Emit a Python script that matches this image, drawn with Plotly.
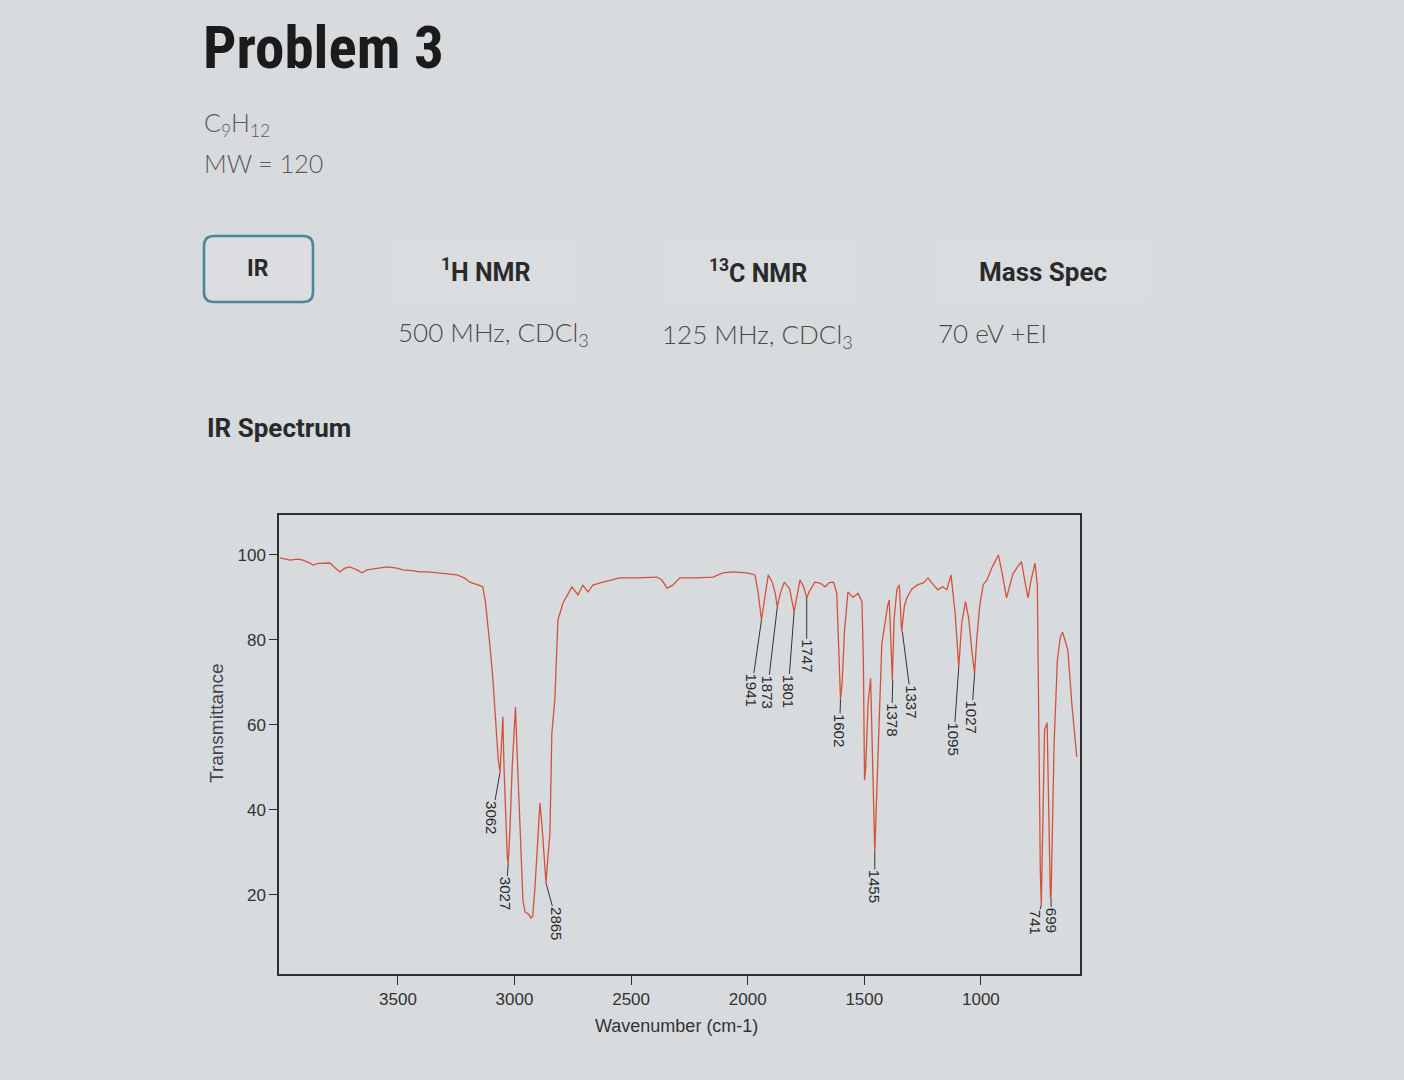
import numpy as np
import plotly.graph_objects as go

# ---------------- data ----------------
wavenumber = [
    4006, 3963, 3930, 3907, 3877, 3864, 3840, 3813, 3792, 3770, 3749, 3727, 3706, 3676, 3654, 3633,
    3590, 3547, 3504, 3479, 3440, 3406, 3370, 3333, 3290, 3247, 3215, 3191, 3160, 3136, 3125, 3115,
    3106, 3093, 3080, 3070, 3062, 3056, 3050, 3045, 3038, 3031, 3027, 3020, 3010, 3000, 2996, 2990,
    2980, 2970, 2964, 2955, 2940, 2930, 2922, 2912, 2904, 2891, 2883, 2872, 2865, 2858, 2848, 2840,
    2827, 2814, 2792, 2754, 2728, 2707, 2685, 2664, 2621, 2548, 2475, 2389, 2368, 2346, 2321, 2291,
    2218, 2149, 2106, 2063, 2003, 1969, 1955, 1941, 1930, 1912, 1895, 1882, 1873, 1860, 1843, 1820,
    1801, 1790, 1776, 1760, 1747, 1735, 1712, 1690, 1668, 1650, 1632, 1618, 1610, 1602, 1595, 1585,
    1570, 1548, 1527, 1510, 1504, 1499, 1494, 1484, 1473, 1466, 1460, 1455, 1449, 1442, 1437, 1425,
    1400, 1393, 1386, 1380, 1372, 1360, 1350, 1340, 1328, 1317, 1296, 1270, 1245, 1227, 1205, 1184,
    1165, 1146, 1128, 1110, 1095, 1082, 1066, 1052, 1038, 1027, 1018, 1005, 990, 975, 951, 925,
    910, 890, 875, 863, 845, 826, 812, 798, 785, 768, 758, 752, 745, 741, 736, 727,
    716, 708, 702, 699, 694, 686, 672, 660, 650, 640, 627, 610, 589,
]
transmittance = [
    99.3, 98.8, 99.0, 98.8, 98.1, 97.6, 98.0, 98.1, 98.1, 97.0, 96.0, 96.9, 97.2, 96.5, 95.8, 96.5,
    96.9, 97.2, 96.9, 96.5, 96.3, 96.0, 96.0, 95.8, 95.6, 95.3, 94.6, 93.6, 93.0, 92.5, 89.0, 84.0,
    79.0, 71.0, 60.0, 52.0, 48.9, 55.0, 61.9, 50.0, 38.0, 29.0, 27.5, 35.0, 50.0, 63.0, 64.2, 55.0,
    42.0, 25.0, 18.8, 16.0, 15.5, 14.6, 15.0, 22.0, 30.6, 41.6, 37.0, 28.0, 22.8, 28.0, 34.6, 58.0,
    66.0, 84.7, 88.7, 92.5, 90.6, 92.9, 91.3, 92.9, 93.6, 94.6, 94.6, 94.8, 94.1, 92.2, 92.9, 94.6,
    94.6, 94.8, 95.8, 96.0, 95.8, 95.3, 91.0, 84.7, 89.0, 95.3, 93.6, 91.0, 87.8, 91.0, 93.6, 92.0,
    86.6, 90.0, 94.1, 92.5, 89.9, 91.5, 93.6, 93.4, 92.5, 93.5, 93.6, 91.0, 80.0, 66.0, 70.0, 82.0,
    91.3, 90.0, 91.0, 89.0, 75.0, 47.0, 50.0, 65.0, 71.0, 55.0, 40.0, 30.0, 40.0, 52.0, 55.0, 79.0,
    88.0, 89.4, 80.0, 70.6, 85.0, 92.0, 93.0, 82.0, 88.0, 90.0, 92.0, 93.0, 93.5, 94.6, 93.0, 91.8,
    92.5, 91.8, 95.3, 86.0, 73.6, 84.0, 89.0, 85.0, 77.0, 72.2, 80.0, 88.0, 93.0, 94.0, 97.2, 100.0,
    96.0, 89.9, 93.0, 95.5, 97.0, 98.4, 94.0, 89.9, 94.0, 98.1, 93.0, 60.0, 25.0, 17.6, 32.0, 58.8,
    60.5, 35.0, 19.3, 19.8, 38.0, 55.8, 75.3, 80.5, 81.9, 80.0, 77.6, 65.0, 52.5,
]
peak_labels = ["3062", "3027", "2865", "1941", "1873", "1801", "1747", "1602",
               "1455", "1378", "1337", "1095", "1027", "741", "699"]
x_ticks = [3500, 3000, 2500, 2000, 1500, 1000]
y_ticks = [20, 40, 60, 80, 100]

# label offsets (pixels) from the band minimum to the rotated label
label_offsets = [(-8, 45), (-2, 30), (11, 40), (-10, 70), (-10, 85), (-6, 79), (0, 58), (-1, 31),
                 (0, 34), (-1, 40), (9, 70), (-5, 72), (-3, 44), (-5, 17), (0, 22)]

# ---------------- layout geometry ----------------
W, H = 1404, 1080
L, R, T, B = 279, 1080, 515, 974


def px(x):
    return (x - L) / (R - L)


def py(y):
    return (B - y) / (B - T)


BG = "#d8dbde"
LINE = "#d2523b"
DARK = "#2e2e2e"

wn_arr = np.array(wavenumber, dtype=float)
t_arr = np.array(transmittance, dtype=float)

fig = go.Figure()
fig.add_trace(go.Scatter(
    x=wn_arr, y=t_arr, mode="lines",
    line=dict(color=LINE, width=1.3),
    hoverinfo="x+y", showlegend=False,
))

annotations = []
# peak labels
for lab, (ax, ay) in zip(peak_labels, label_offsets):
    w = float(lab)
    mask = np.abs(wn_arr - w) <= 6
    yv = float(t_arr[mask].min()) if mask.any() else float(np.interp(-w, -wn_arr, t_arr))
    annotations.append(dict(
        x=w, y=yv, xref="x", yref="y", text=lab, textangle=90,
        showarrow=True, arrowhead=0, arrowwidth=1, arrowcolor="#333333",
        ax=ax, ay=ay, standoff=0, borderpad=0,
        font=dict(family="Liberation Sans, Arial", size=15, color="#2a2a2a"),
    ))


def txt(text, x, y, size, color, family="Roboto, Liberation Sans", xanchor="center",
        yanchor="middle", angle=0, weight=None):
    f = dict(family=family, size=size, color=color)
    if weight is not None:
        f["weight"] = weight
    annotations.append(dict(
        x=px(x), y=py(y), xref="paper", yref="paper", text=text, showarrow=False,
        xanchor=xanchor, yanchor=yanchor, textangle=angle, font=f,
    ))


txt("<b>Problem 3</b>", 201, 47, 59, "#1b1b1b",
    family="Roboto Condensed, Open Sans Condensed, Noto Sans Condensed, Roboto", xanchor="left")
txt("C<sub>9</sub>H<sub>12</sub>", 202, 124, 25, "#5a5a5a", family="Lato, Roboto",
    xanchor="left", weight=300)
txt("MW = 120", 202, 163, 25, "#5a5a5a", family="Lato, Roboto", xanchor="left", weight=300)

txt("<b>IR</b>", 258, 269, 23, "#2a2a2a")
txt("<b><sup>1</sup>H NMR</b>", 485, 270, 25, "#2a2a2a")
txt("<b><sup>13</sup>C NMR</b>", 758, 271, 25, "#2a2a2a")
txt("<b>Mass Spec</b>", 1043, 272, 26, "#2a2a2a")

txt("500 MHz, CDCl<sub>3</sub>", 493, 333, 26, "#4a4a4a", family="Lato, Roboto", weight=300)
txt("125 MHz, CDCl<sub>3</sub>", 757, 335, 26, "#4a4a4a", family="Lato, Roboto", weight=300)
txt("70 eV +EI", 992, 333, 26, "#4a4a4a", family="Lato, Roboto", weight=300)

txt("<b>IR Spectrum</b>", 205, 428, 26, "#2a2a2a", xanchor="left")
txt("Transmittance", 216, 723, 19, "#444444", family="Liberation Sans, Arial", angle=-90)
txt("Wavenumber (cm-1)", 676, 1026, 18, "#333333", family="Liberation Sans, Arial")


def rounded_rect(x0, y0, x1, y1, r):
    X = lambda v: px(v)
    Y = lambda v: py(v)
    return (f"M {X(x0 + r)} {Y(y0)} L {X(x1 - r)} {Y(y0)} Q {X(x1)} {Y(y0)} {X(x1)} {Y(y0 + r)} "
            f"L {X(x1)} {Y(y1 - r)} Q {X(x1)} {Y(y1)} {X(x1 - r)} {Y(y1)} "
            f"L {X(x0 + r)} {Y(y1)} Q {X(x0)} {Y(y1)} {X(x0)} {Y(y1 - r)} "
            f"L {X(x0)} {Y(y0 + r)} Q {X(x0)} {Y(y0)} {X(x0 + r)} {Y(y0)} Z")


shapes = []
for (x0, x1) in [(393, 577), (663, 855), (935, 1150)]:
    shapes.append(dict(type="path", xref="paper", yref="paper", path=rounded_rect(x0, 236, x1, 305, 8),
                       fillcolor="rgba(255,255,255,0.07)", line=dict(width=0), layer="below"))
shapes.append(dict(type="path", xref="paper", yref="paper", path=rounded_rect(204, 236, 313, 302, 10),
                   fillcolor="rgba(255,255,255,0.08)", line=dict(color="#4d8795", width=2.6)))

axis_font = dict(family="Liberation Sans, Arial", size=17, color="#333333")
fig.update_layout(
    width=W, height=H,
    margin=dict(l=L, r=W - R, t=T, b=H - B, pad=0),
    paper_bgcolor=BG, plot_bgcolor=BG,
    showlegend=False,
    annotations=annotations,
    shapes=shapes,
    xaxis=dict(range=[4010, 575], tickvals=x_ticks, ticktext=[str(v) for v in x_ticks],
               showgrid=False, zeroline=False, showline=True, mirror=True,
               linecolor=DARK, linewidth=1.5, ticks="outside", ticklen=9, tickwidth=1.3,
               tickcolor=DARK, tickfont=axis_font),
    yaxis=dict(range=[1.4, 109.4], tickvals=y_ticks, ticktext=[str(v) for v in y_ticks],
               showgrid=False, zeroline=False, showline=True, mirror=True,
               linecolor=DARK, linewidth=1.5, ticks="outside", ticklen=8, tickwidth=1.3,
               tickcolor=DARK, tickfont=axis_font),
)

fig.write_html("out.html")
